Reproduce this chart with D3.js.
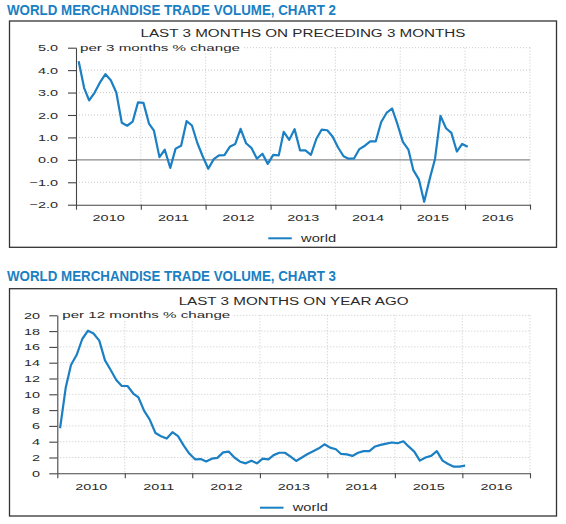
<!DOCTYPE html>
<html lang="en">
<head>
    <meta charset="UTF-8">
    <title>World merchandise trade volume</title>
    <script src="https://cdn.jsdelivr.net/npm/d3@7"></script>
    <style>
        body { margin: 0; background: #fff; }
        text { font-family: "Liberation Sans", Arial, sans-serif; }
    </style>
</head>
<body>
<div id="main"></div>
<script>
    // monthly series, Jan 2010 .. Jan 2016
    const firstMonth = new Date(2010, 0, 1)
    const lastMonth = new Date(2016, 0, 1)

    // chart 2: last 3 months on preceding 3 months
    const world3m = [
        4.4, 3.2, 2.65, 3.0, 3.45, 3.82, 3.55, 3.0, 1.65, 1.52, 1.7, 2.56,
        2.54, 1.62, 1.3, 0.12, 0.45, -0.36, 0.5, 0.63, 1.73, 1.53, 0.74, 0.15,
        -0.4, 0.03, 0.2, 0.21, 0.58, 0.71, 1.38, 0.74, 0.52, 0.05, 0.27, -0.18,
        0.22, 0.2, 1.25, 0.89, 1.37, 0.42, 0.42, 0.22, 0.94, 1.35, 1.32, 1.04,
        0.55, 0.16, 0.05, 0.06, 0.48, 0.63, 0.82, 0.82, 1.69, 2.09, 2.29, 1.6,
        0.8, 0.46, -0.46, -0.87, -1.87, -0.85, 0.04, 1.96, 1.41, 1.2, 0.37, 0.71,
        0.58
    ]

    // chart 3: last 3 months on year ago
    const world12m = [
        5.7, 10.9, 13.7, 15.0, 17.0, 18.05, 17.7, 16.8, 14.3, 13.1, 11.8, 11.05,
        11.05, 10.1, 9.6, 7.9, 6.8, 5.1, 4.7, 4.4, 5.2, 4.7, 3.5, 2.5,
        1.77, 1.8, 1.5, 1.85, 1.95, 2.65, 2.75, 2.0, 1.47, 1.26, 1.6, 1.26,
        1.85, 1.77, 2.3, 2.6, 2.6, 2.1, 1.56, 2.0, 2.45, 2.8, 3.16, 3.67,
        3.25, 3.05, 2.45, 2.4, 2.2, 2.6, 2.8, 2.8, 3.4, 3.6, 3.75, 3.9,
        3.8, 4.05, 3.4, 2.75, 1.6, 2.0, 2.2, 2.8, 1.6, 1.17, 0.84, 0.84,
        0.97
    ]

    const years = ["2010", "2011", "2012", "2013", "2014", "2015", "2016"]
    const yTicks3m = [-2, -1, 0, 1, 2, 3, 4, 5]
    const yTicks12m = [0, 2, 4, 6, 8, 10, 12, 14, 16, 18, 20]
    const seriesName = "world"

    const blue = "#1b7fc3"
    const ink = "#2a2a2a"
    // the embedded chart pictures are stretched sideways
    const stretchX = 1.52

    let width = 566, height = 524

    let svg = d3.select("#main")
        .append("svg")
        .attr("id", "svg")
        .attr("width", width)
        .attr("height", height)

    let months = d3.timeMonth.range(firstMonth, d3.timeMonth.offset(lastMonth, 1))

    function widen(sel, k) {
        sel.each(function () {
            let w = this.getComputedTextLength()
            d3.select(this).attr("textLength", w * k).attr("lengthAdjust", "spacingAndGlyphs")
        })
    }

    function drawChart(c) {
        // blue heading above the frame
        svg.append("text")
            .attr("x", 7)
            .attr("y", c.titleY)
            .attr("textLength", 329)
            .attr("lengthAdjust", "spacingAndGlyphs")
            .style("font-size", "14px")
            .style("font-weight", "bold")
            .style("fill", blue)
            .text(c.title)

        // frame
        svg.append("rect")
            .attr("x", 9.5).attr("y", c.box[0])
            .attr("width", 547).attr("height", c.box[1] - c.box[0])
            .attr("fill", "none")
            .attr("stroke", "#333")
            .attr("stroke-width", 1.3)

        let x = d3.scaleTime()
            .domain([new Date(2010, 0, 1), new Date(2017, 0, 1)])
            .range([c.left, 530])

        let y = d3.scaleLinear()
            .domain(c.yDomain)
            .range([c.bottom, c.top])

        let g = svg.append("g")

        // dotted grid
        let yearStarts = d3.timeYear.range(new Date(2011, 0, 1), new Date(2017, 0, 2))
        g.append("g").selectAll("line")
            .data(yearStarts)
            .enter()
            .append("line")
            .attr("x1", d => x(d)).attr("x2", d => x(d))
            .attr("y1", c.top).attr("y2", c.bottom)
            .attr("stroke", "#bbb")
            .attr("stroke-width", 0.8)
            .attr("stroke-dasharray", "1,2")

        g.append("g").selectAll("line")
            .data(c.yTicks.filter(v => v !== c.yDomain[0] && v !== 0))
            .enter()
            .append("line")
            .attr("x1", c.left).attr("x2", x(new Date(2017, 0, 1)))
            .attr("y1", d => y(d)).attr("y2", d => y(d))
            .attr("stroke", "#bbb")
            .attr("stroke-width", 0.8)
            .attr("stroke-dasharray", "1,2")

        if (c.yDomain[0] < 0) {
            g.append("line")
                .attr("x1", c.left).attr("x2", 530)
                .attr("y1", y(0)).attr("y2", y(0))
                .attr("stroke", "#8a8a8a")
                .attr("stroke-width", 1.3)
        }

        // unit note, on white so the top grid line stops behind it
        g.append("rect")
            .attr("x", c.noteX - 2)
            .attr("y", c.noteY - 9)
            .attr("width", c.noteW + 4)
            .attr("height", 11)
            .attr("fill", "#fff")
        g.append("text")
            .attr("x", c.noteX)
            .attr("y", c.noteY)
            .attr("textLength", c.noteW)
            .attr("lengthAdjust", "spacingAndGlyphs")
            .style("font-size", "9.8px")
            .style("fill", ink)
            .text(c.note)

        // subtitle, centred over the plot
        g.append("text")
            .attr("x", (c.left + 530) / 2 - c.subW / 2)
            .attr("y", c.box[0] + 16.3)
            .attr("textLength", c.subW)
            .attr("lengthAdjust", "spacingAndGlyphs")
            .style("font-size", "10px")
            .style("fill", ink)
            .text(c.subtitle)

        // axes
        let yAxis = d3.axisLeft(y)
            .tickValues(c.yTicks)
            .tickFormat(d3.format(c.yFormat))
            .tickSize(8)
            .tickSizeOuter(0)
            .tickPadding(c.yPad)

        let ya = g.append("g")
            .attr("transform", `translate(${c.left},0)`)
            .call(yAxis)
        ya.selectAll("path, line").attr("stroke", "#444").attr("stroke-width", 1.1)
        ya.selectAll("text").style("font-size", "9.5px").style("font-family", null).attr("fill", ink)
        widen(ya.selectAll("text"), stretchX)

        let xAxis = d3.axisBottom(x)
            .tickValues(d3.timeYear.range(new Date(2010, 0, 1), new Date(2017, 0, 2)))
            .tickFormat("")
            .tickSize(5)
            .tickSizeOuter(0)

        let xa = g.append("g")
            .attr("transform", `translate(0,${c.bottom})`)
            .call(xAxis)
        xa.selectAll("path, line").attr("stroke", "#444").attr("stroke-width", 1.1)

        // year labels sit in the middle of each year
        let yearLabels = d3.axisBottom(x)
            .tickValues(years.map(s => new Date(+s, 6, 1)))
            .tickFormat(d3.timeFormat("%Y"))
            .tickSize(0)
            .tickPadding(c.xPad)

        let xl = g.append("g")
            .attr("transform", `translate(0,${c.bottom})`)
            .call(yearLabels)
        xl.select(".domain").remove()
        xl.selectAll("text").style("font-size", "9.5px").style("font-family", null).attr("fill", ink)
        widen(xl.selectAll("text"), stretchX)

        // series
        let line = d3.line()
            .x((d, i) => x(new Date(months[i].getFullYear(), months[i].getMonth(), 16)))
            .y(d => y(d))

        g.append("path")
            .datum(c.values)
            .attr("d", line)
            .attr("fill", "none")
            .attr("stroke", blue)
            .attr("stroke-width", 2.2)
            .attr("stroke-linejoin", "round")

        // legend
        g.append("line")
            .attr("x1", c.legend[0]).attr("x2", c.legend[0] + 23.5)
            .attr("y1", c.legend[1]).attr("y2", c.legend[1])
            .attr("stroke", blue)
            .attr("stroke-width", 2)

        g.append("text")
            .attr("x", c.legend[0] + 32.8)
            .attr("y", c.legend[1] + 3.2)
            .attr("textLength", 35)
            .attr("lengthAdjust", "spacingAndGlyphs")
            .style("font-size", "10px")
            .style("fill", ink)
            .text(seriesName)
    }

    drawChart({
        title: "WORLD MERCHANDISE TRADE VOLUME, CHART 2",
        titleY: 15,
        box: [21, 247.3],
        subtitle: "LAST 3 MONTHS ON PRECEDING 3 MONTHS",
        subW: 325,
        note: "per 3 months % change",
        noteX: 80, noteY: 50.7, noteW: 160,
        left: 76, top: 47.7, bottom: 204.7,
        yDomain: [-2, 5],
        yTicks: yTicks3m,
        yFormat: ".1f",
        yPad: 10,
        xPad: 9.3,
        values: world3m,
        legend: [268.3, 238.3]
    })

    drawChart({
        title: "WORLD MERCHANDISE TRADE VOLUME, CHART 3",
        titleY: 281,
        box: [288.7, 516],
        subtitle: "LAST 3 MONTHS ON YEAR AGO",
        subW: 230,
        note: "per 12 months % change",
        noteX: 62.3, noteY: 318, noteW: 168,
        left: 57.3, top: 315.3, bottom: 473.3,
        yDomain: [0, 20],
        yTicks: yTicks12m,
        yFormat: "d",
        yPad: 9.3,
        xPad: 10.3,
        values: world12m,
        legend: [260, 507.7]
    })
</script>
</body>
</html>
